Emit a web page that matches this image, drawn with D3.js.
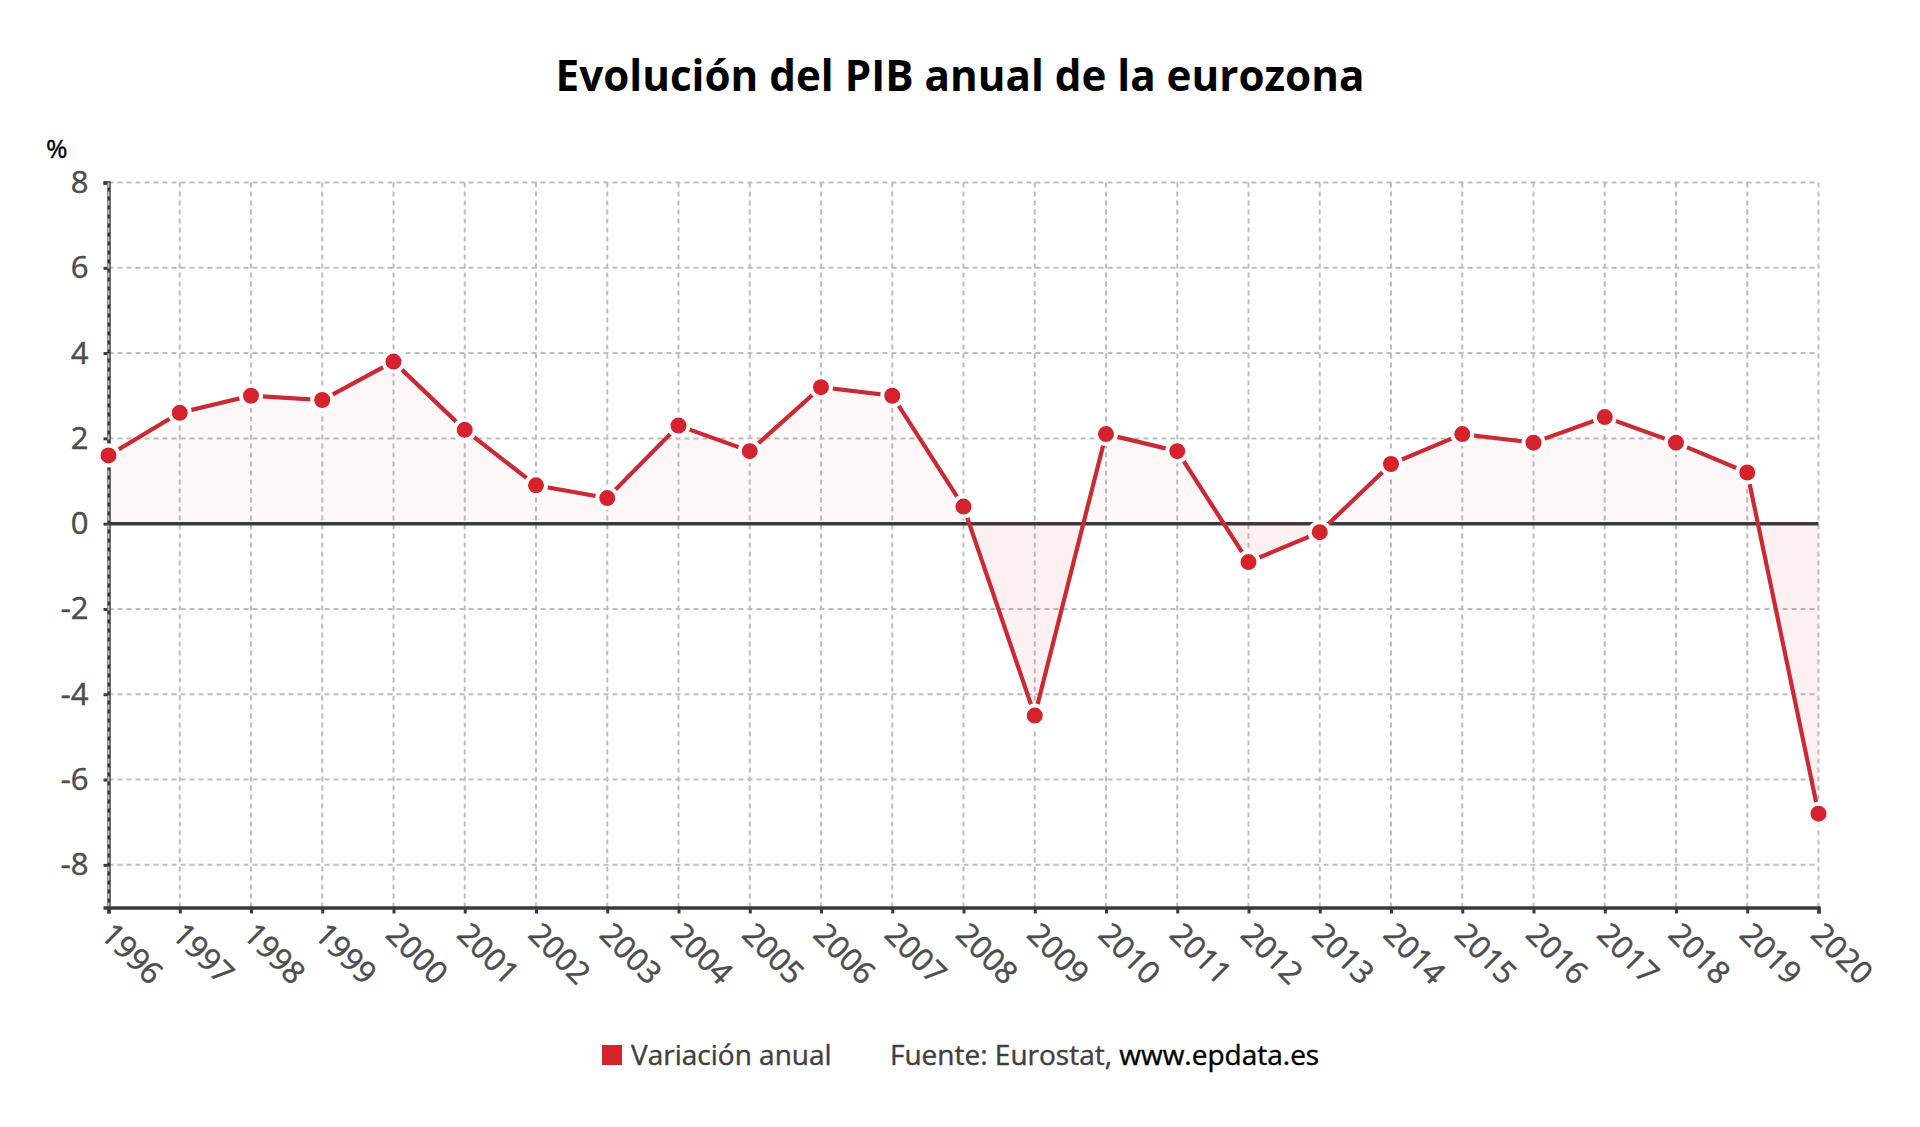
<!DOCTYPE html>
<html>
<head>
<meta charset="utf-8">
<script src="https://cdn.jsdelivr.net/npm/d3@7"></script>
<style>
html, body { margin: 0; padding: 0; background: #fff; }
svg { display: block; }
text { font-family: "Open Sans", sans-serif; }
</style>
</head>
<body>
<svg id="chart" width="1920" height="1127"></svg>
<script>
var years = [1996,1997,1998,1999,2000,2001,2002,2003,2004,2005,2006,2007,2008,2009,2010,2011,2012,2013,2014,2015,2016,2017,2018,2019,2020];
var variacion = [1.6,2.6,3,2.9,3.8,2.2,0.9,0.6,2.3,1.7,3.2,3,0.4,-4.5,2.1,1.7,-0.9,-0.2,1.4,2.1,1.9,2.5,1.9,1.2,-6.8];
var y_ticks = [-8,-6,-4,-2,0,2,4,6,8];

var red = '#d0252f';
var svg = d3.select('#chart');

var x = d3.scaleLinear().domain([1996, 2020]).range([108.5, 1818.5]);
var y = d3.scaleLinear().domain([-9, 8]).range([907.5, 182.5]);

// grid
svg.append('g').selectAll('line').data(y_ticks.filter(function(d){ return d != 0; })).enter().append('line')
  .attr('x1', x(1996)).attr('x2', x(2020))
  .attr('y1', function(d){ return y(d); }).attr('y2', function(d){ return y(d); })
  .attr('stroke', '#bdbdbd').attr('stroke-width', 2).attr('stroke-dasharray', '5,4');

// left axis sits under the vertical grid, so 1996 looks dashed on dark
var yAxis = d3.axisLeft(y).tickValues(y_ticks).tickSize(5).tickPadding(15).tickFormat(function(d){ return '' + d; });
var gy = svg.append('g').attr('transform', 'translate(' + x(1996) + ',0)').call(yAxis);
gy.select('.domain').attr('stroke', '#3a3a3a').attr('stroke-width', 3.5);
gy.selectAll('.tick line').attr('stroke', '#3a3a3a').attr('stroke-width', 3);
gy.selectAll('.tick text').attr('fill', '#4d4d4d').attr('stroke', '#4d4d4d').attr('stroke-width', 0.5)
  .style('font-size', '31px').style('font-family', '"Open Sans", sans-serif');

svg.append('g').selectAll('line').data(years).enter().append('line')
  .attr('x1', function(d){ return x(d); }).attr('x2', function(d){ return x(d); })
  .attr('y1', y(8)).attr('y2', y(-9))
  .attr('stroke', '#bdbdbd').attr('stroke-width', 2).attr('stroke-dasharray', '5,4');

// area, a bit stronger below zero
var area = d3.area()
  .x(function(d, i){ return x(years[i]); })
  .y0(y(0))
  .y1(function(d){ return y(d); });

var defs = svg.append('defs');
defs.append('clipPath').attr('id', 'above').append('rect')
  .attr('x', x(1996)).attr('y', y(8)).attr('width', x(2020) - x(1996)).attr('height', y(0) - y(8));
defs.append('clipPath').attr('id', 'below').append('rect')
  .attr('x', x(1996)).attr('y', y(0)).attr('width', x(2020) - x(1996)).attr('height', y(-9) - y(0));

svg.append('path').datum(variacion).attr('d', area).attr('fill', red).attr('fill-opacity', 0.035).attr('clip-path', 'url(#above)');
svg.append('path').datum(variacion).attr('d', area).attr('fill', red).attr('fill-opacity', 0.07).attr('clip-path', 'url(#below)');

// zero line
svg.append('line').attr('x1', x(1996)).attr('x2', x(2020)).attr('y1', y(0)).attr('y2', y(0))
  .attr('stroke', '#3a3a3a').attr('stroke-width', 3.5);

// bottom axis
var xAxis = d3.axisBottom(x).tickValues(years).tickSize(6).tickPadding(0).tickFormat(d3.format('d'));
var gx = svg.append('g').attr('transform', 'translate(0,' + y(-9) + ')').call(xAxis);
gx.select('.domain').attr('stroke', '#3a3a3a').attr('stroke-width', 3.5);
gx.selectAll('.tick line').attr('stroke', '#3a3a3a').attr('stroke-width', 3);
gx.selectAll('.tick text')
  .attr('fill', '#4d4d4d')
  .attr('stroke', '#4d4d4d').attr('stroke-width', 0.5)
  .attr('text-anchor', 'start')
  .attr('transform', 'translate(-2,21) rotate(45)')
  .attr('dy', '0.35em')
  .attr('y', 0)
  .style('font-size', '31px')
  .style('font-family', '"Open Sans", sans-serif');

// line
var line = d3.line()
  .x(function(d, i){ return x(years[i]); })
  .y(function(d){ return y(d); });
svg.append('path').datum(variacion).attr('d', line)
  .attr('fill', 'none').attr('stroke', '#c92a33').attr('stroke-width', 4.2);

svg.append('g').selectAll('circle').data(variacion).enter().append('circle')
  .attr('cx', function(d, i){ return x(years[i]); })
  .attr('cy', function(d){ return y(d); })
  .attr('r', 10)
  .attr('fill', '#d5232e')
  .attr('stroke', '#fff').attr('stroke-width', 4);

// texts
svg.append('text').attr('x', 960).attr('y', 91).attr('text-anchor', 'middle')
  .attr('fill', '#000').style('font-size', '42.2px').style('font-weight', 700)
  .text('Evolución del PIB anual de la eurozona');

svg.append('text').attr('x', 46).attr('y', 158)
  .attr('fill', '#000').attr('stroke', '#000').attr('stroke-width', 0.4).style('font-size', '26px')
  .text('%');

// legend
svg.append('rect').attr('x', 602).attr('y', 1045).attr('width', 20).attr('height', 20).attr('fill', '#d5232e');
svg.append('text').attr('x', 631).attr('y', 1065)
  .attr('fill', '#404040').attr('stroke', '#404040').attr('stroke-width', 0.4).style('font-size', '28px')
  .text('Variación anual');
var fuente = svg.append('text').attr('x', 890).attr('y', 1065)
  .attr('fill', '#404040').attr('stroke', '#404040').attr('stroke-width', 0.4).style('font-size', '28px');
fuente.append('tspan').text('Fuente: Eurostat, ');
fuente.append('tspan').attr('fill', '#000').attr('stroke', '#000').text('www.epdata.es');
</script>
</body>
</html>
